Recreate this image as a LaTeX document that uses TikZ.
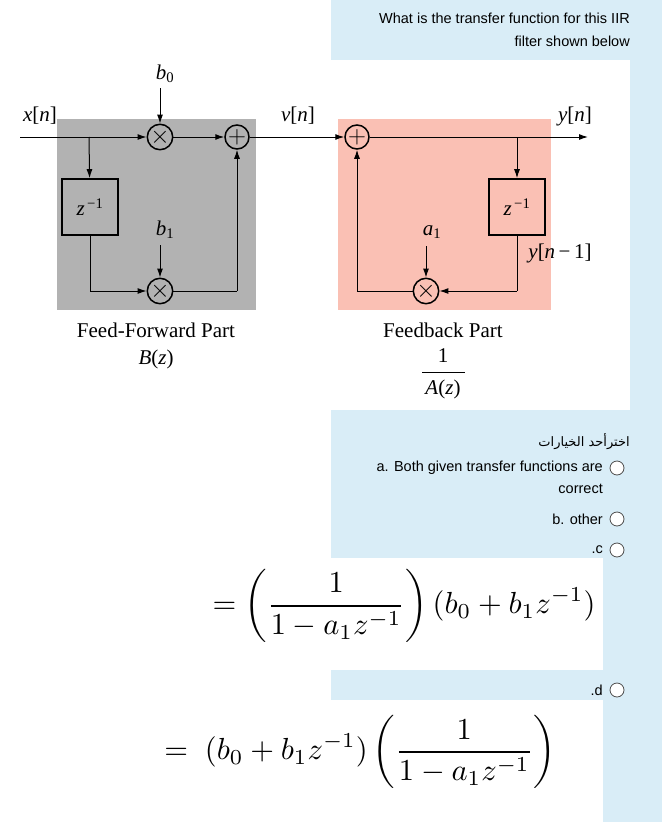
\documentclass[tikz,border=0pt]{standalone}
\usepackage{fontspec}
\setmainfont{Liberation Serif}
\newfontfamily\uisans{Liberation Sans}
\newfontfamily\arabicfont[Script=Arabic]{DejaVu Sans}
\TeXXeTstate=1
\usetikzlibrary{arrows.meta}
\definecolor{panel}{RGB}{217,237,247}
\definecolor{ffgray}{RGB}{178,178,178}
\definecolor{fbpink}{RGB}{250,192,180}
\tikzset{
  sig/.style={line width=1pt,-{Latex[length=9pt,width=6pt]}},
  wire/.style={line width=1pt},
  op/.style={circle,draw,line width=1.5pt,minimum size=24pt,inner sep=0pt,font=\fontsize{24}{24}\selectfont},
  delay/.style={draw,line width=1.6pt,minimum width=56pt,minimum height=56pt,inner sep=0pt},
  lbl/.style={font=\fontsize{21}{25}\selectfont,inner sep=0pt},
  ui/.style={font=\uisans\fontsize{14.5}{17}\selectfont,inner sep=0pt,anchor=east},
  radio/.style={circle,draw=black!70,line width=0.8pt,minimum size=14pt,inner sep=0pt,fill=white},
}
\newcommand{\opmul}{\raisebox{1pt}{$\times$}}
\newcommand{\opadd}{\raisebox{1pt}{$+$}}
\begin{document}
\begin{tikzpicture}[x=1pt,y=-1pt]
\useasboundingbox (0,0) rectangle (662,822);
\fill[white] (0,0) rectangle (662,822);
% equations (under panels)
\node[inner sep=0pt,scale=3.05] (eqc) at (404,606) {$\displaystyle =\left(\frac{1}{1-a_1z^{-1}}\right)(b_0+b_1z^{-1})$};
\node[inner sep=0pt,scale=3.05] (eqd) at (360,752) {$\displaystyle =\;(b_0+b_1z^{-1})\left(\frac{1}{1-a_1z^{-1}}\right)$};
% panels
\fill[panel] (331,0) rectangle (662,60);
\fill[panel] (630,0) rectangle (662,410);
\fill[panel] (603,410) rectangle (662,822);
\fill[panel] (331,410) rectangle (603,558);
\fill[panel] (331,670) rectangle (603,700);
\node[ui] (q1) at (630,18) {What is the transfer function for this IIR};
\node[ui] (q2) at (630,41) {filter shown below};
\node[inner sep=0pt,anchor=east,font=\arabicfont\fontsize{13}{15}\selectfont] (ar) at (630,442) {\beginR اخترأحد الخيارات\endR};
\node[ui] (oa) at (603,468) {a. Both given transfer functions are};
\node[ui] (oa2) at (603,489) {correct};
\node[ui] (ob) at (603,519) {b. other};
\node[ui] (oc) at (603,550) {.c};
\node[ui] (od) at (603,690) {.d};
\node[radio] (ra) at (617,468) {};
\node[radio] (rb) at (617,519) {};
\node[radio] (rc) at (617,550) {};
\node[radio] (rd) at (617,690) {};
% diagram backgrounds
\fill[ffgray] (57,119) rectangle (256,310);
\fill[fbpink] (338,119) rectangle (551,310);
% nodes
\coordinate (in) at (20,137);
\coordinate (br1) at (89,137);
\node[op] (m0) at (160,137) {\opmul};
\node[op] (s1) at (237,137) {\opadd};
\node[op] (s2) at (357,137) {\opadd};
\coordinate (br2) at (517,137);
\coordinate (out) at (588,137);
\node[delay,lbl] (d1) at (90,207) {\textit{z}\textsuperscript{\,−1}};
\node[delay,lbl] (d2) at (517,207) {\textit{z}\textsuperscript{\,−1}};
\node[op] (m1) at (160,291) {\opmul};
\node[op] (ma) at (426,291) {\opmul};
\coordinate (c1) at (90,291);
\coordinate (c2) at (237,291);
\coordinate (c3) at (517,291);
\coordinate (c4) at (357,291);
\node[lbl] (b0) at (165,74) {\textit{b}\textsubscript{0}};
\node[lbl] (b1) at (165,230) {\textit{b}\textsubscript{1}};
\node[lbl] (a1) at (432,232) {\textit{a}\textsubscript{1}};
\coordinate (b0t) at (160,88);
\coordinate (b1t) at (160,245);
\coordinate (a1t) at (426,246);
\node[lbl] (xn) at (40,116) {\textit{x}[\textit{n}]};
\node[lbl] (vn) at (298,116) {\textit{v}[\textit{n}]};
\node[lbl] (yn) at (575,116) {\textit{y}[\textit{n}]};
\node[lbl] (yn1) at (560,253) {\textit{y}[\textit{n}\,−\,1]};
\node[lbl] (ff) at (156,330) {Feed-Forward Part};
\node[lbl] (bz) at (156,359) {\textit{B}(\textit{z})};
\node[lbl] (fb) at (443,330) {Feedback Part};
\node[lbl] (one) at (443,356) {1};
\node[lbl] (az) at (443,389) {\textit{A}(\textit{z})};
\draw[line width=1pt] (422,372) -- (465,372);
% connectors
\draw[sig] (in) -- (m0);
\draw[sig] (m0) -- (s1);
\draw[sig] (s1) -- (s2);
\draw[sig] (s2) -- (out);
\draw[sig] (br1) -- (d1);
\draw[sig] (b0t) -- (m0);
\draw[sig] (b1t) -- (m1);
\draw[sig] (a1t) -- (ma);
\draw[wire] (d1) -- (c1);
\draw[sig] (c1) -- (m1);
\draw[wire] (m1) -- (c2);
\draw[sig] (c2) -- (s1);
\draw[sig] (br2) -- (d2);
\draw[wire] (d2) -- (c3);
\draw[sig] (c3) -- (ma);
\draw[wire] (ma) -- (c4);
\draw[sig] (c4) -- (s2);
\end{tikzpicture}
\end{document}
